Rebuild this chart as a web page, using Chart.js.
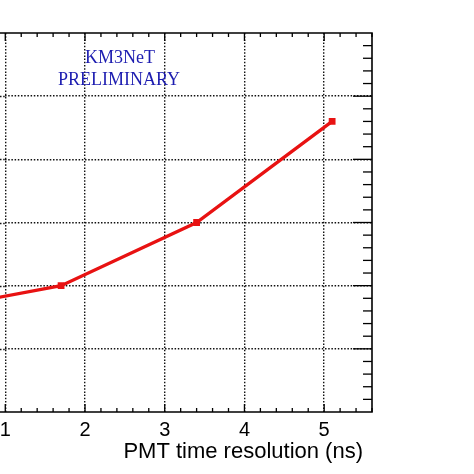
<!DOCTYPE html>
<html>
<head>
<meta charset="utf-8">
<script src="https://cdn.jsdelivr.net/npm/chart.js@4"></script>
<style>
html,body{margin:0;padding:0;background:#fff;}
#wrap{width:474px;height:474px;position:relative;}
</style>
</head>
<body>
<div id="wrap"><canvas id="c" width="474" height="474"></canvas></div>
<script>
// Data
const xValues = [0, 1.7, 3.4, 5.1];          // PMT time resolution (ns)
const yValues = [1.6, 2.0, 3.0, 4.6];        // y values (axis labels cropped in reference)
const xTickLabels = [1, 2, 3, 4, 5];
const yGridValues = [1, 2, 3, 4, 5];
const xTitle = 'PMT time resolution (ns)';
const noteLines = ['KM3NeT', 'PRELIMINARY'];

const XMIN = 0.994, XMAX = 5.6, YMIN = 0, YMAX = 6;

const framePlugin = {
  id: 'frame',
  beforeDatasetsDraw(chart) {
    // continue the dotted horizontal grid lines to the canvas edge
    const {ctx, chartArea: a, scales: {y}} = chart;
    ctx.save();
    ctx.strokeStyle = '#111';
    ctx.lineWidth = 1.4;
    ctx.setLineDash([1.5, 1.7]);
    yGridValues.forEach(v => {
      const py = Math.round(y.getPixelForValue(v)) + 0.5;
      ctx.beginPath(); ctx.moveTo(0, py); ctx.lineTo(a.left, py); ctx.stroke();
    });
    ctx.restore();
  },
  afterDatasetsDraw(chart) {
    const {ctx, chartArea: a, scales: {x, y}} = chart;
    ctx.save();
    ctx.strokeStyle = '#000';
    ctx.lineWidth = 1.6;
    // frame: top, right, bottom
    ctx.beginPath();
    ctx.moveTo(0, a.top); ctx.lineTo(a.right, a.top);
    ctx.lineTo(a.right, a.bottom); ctx.lineTo(0, a.bottom);
    ctx.stroke();
    ctx.lineWidth = 1.3;
    // x ticks (inward), bottom and top
    for (let i = 0; i <= 30; i++) {
      const v = Math.round((0.8 + i * 0.2) * 10) / 10;
      if (v < 0.99 || v > XMAX) continue;
      const px = x.getPixelForValue(v);
      const major = Math.abs(v - Math.round(v)) < 1e-6;
      const len = major ? 8 : 4;
      ctx.beginPath();
      ctx.moveTo(px, a.bottom); ctx.lineTo(px, a.bottom - len);
      ctx.moveTo(px, a.top); ctx.lineTo(px, a.top + len);
      ctx.stroke();
    }
    // y ticks on right (inward)
    for (let i = 0; i <= 30; i++) {
      const v = Math.round(i * 0.2 * 10) / 10;
      if (v <= YMIN || v >= YMAX) continue;
      const py = y.getPixelForValue(v);
      const major = Math.abs(v - Math.round(v)) < 1e-6;
      const len = major ? 19 : 9;
      ctx.beginPath();
      ctx.moveTo(a.right, py); ctx.lineTo(a.right - len, py);
      ctx.stroke();
    }
    // annotation text
    ctx.fillStyle = '#1c1cb0';
    ctx.font = '18px "Liberation Serif", "DejaVu Serif", serif';
    ctx.textAlign = 'center';
    ctx.textBaseline = 'middle';
    ctx.fillText(noteLines[0], 120, 58);
    ctx.fillText(noteLines[1], 119, 80);
    // x axis title
    ctx.fillStyle = '#000';
    ctx.font = '22px "Liberation Sans", Arial, sans-serif';
    ctx.textAlign = 'right';
    ctx.fillText(xTitle, a.right - 9, 452);
    ctx.restore();
  }
};

new Chart(document.getElementById('c'), {
  type: 'scatter',
  data: {
    datasets: [{
      data: xValues.map((v, i) => ({x: v, y: yValues[i]})),
      showLine: true,
      borderColor: '#e81212',
      backgroundColor: '#e81212',
      borderWidth: 3.3,
      pointStyle: 'rect',
      pointRadius: 4.8,
      pointHoverRadius: 4.8,
      pointBorderWidth: 0,
      tension: 0,
      clip: {left: 8, top: 0, right: 0, bottom: 0}
    }]
  },
  options: {
    responsive: false,
    animation: false,
    events: [],
    layout: {padding: {top: 33, right: 102, left: 0, bottom: 0}},
    plugins: {legend: {display: false}, tooltip: {enabled: false}},
    scales: {
      x: {
        type: 'linear', min: XMIN, max: XMAX,
        afterBuildTicks: s => { s.ticks = xTickLabels.map(v => ({value: v})); },
        afterFit: s => { s.height = 62; s.paddingLeft = 0; s.paddingRight = 0; },
        grid: {color: '#111', lineWidth: 1.4, drawTicks: false},
        border: {display: false, dash: [1.5, 1.7]},
        ticks: {
          color: '#000', padding: 6,
          font: {family: '"Liberation Sans", Arial, sans-serif', size: 20},
          callback: v => String(v)
        }
      },
      y: {
        type: 'linear', min: YMIN, max: YMAX,
        afterBuildTicks: s => { s.ticks = yGridValues.map(v => ({value: v})); },
        afterFit: s => { s.width = 0; s.paddingTop = 0; s.paddingBottom = 0; },
        grid: {color: '#111', lineWidth: 1.4, drawTicks: false},
        border: {display: false, dash: [1.5, 1.7]},
        ticks: {display: false}
      }
    }
  },
  plugins: [framePlugin]
});
</script>
</body>
</html>
